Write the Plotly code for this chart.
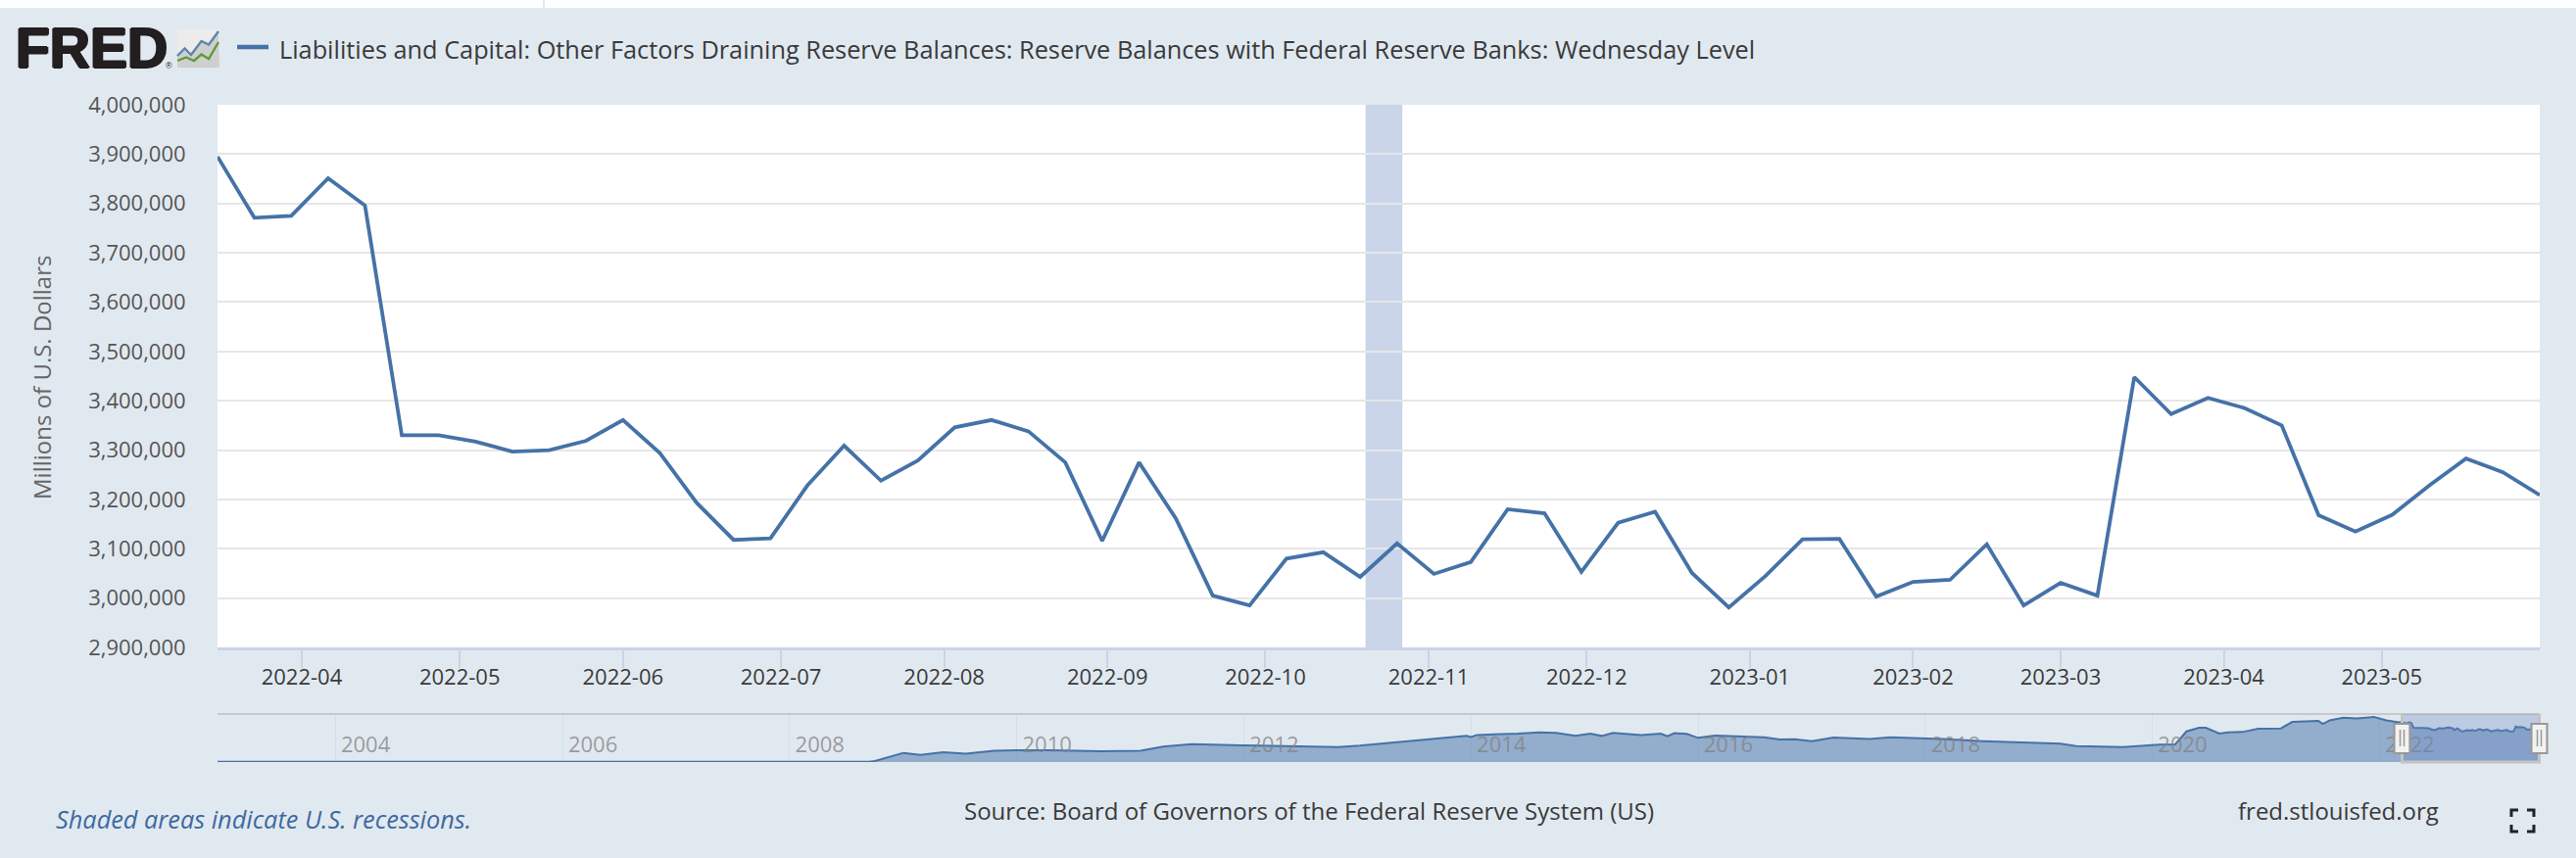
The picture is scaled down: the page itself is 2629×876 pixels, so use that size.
import datetime as dt
import pandas as pd
import plotly.graph_objects as go

W, H = 2629, 876

# Main chart: weekly Wednesday level, millions of U.S. dollars
first_week = "2022-03-16"
reserve_values = [
    3895000, 3771000, 3775000, 3851000, 3796000, 3330000, 3330000, 3317000,
    3297000, 3300000, 3319000, 3361000, 3294000, 3193000, 3118000, 3121000,
    3228000, 3309000, 3238000, 3279000, 3346000, 3361000, 3338000, 3275000,
    3116000, 3275000, 3161000, 3005000, 2985000, 3080000, 3093000, 3043000,
    3111000, 3049000, 3073000, 3180000, 3172000, 3053000, 3153000, 3175000,
    3051000, 2981000, 3045000, 3119000, 3120000, 3003000, 3033000, 3037000,
    3109000, 2985000, 3031000, 3005000, 3448000, 3373000, 3406000, 3385000,
    3350000, 3168000, 3135000, 3169000, 3228000, 3283000, 3255000, 3209000,
]
month_ticks = ["2022-04", "2022-05", "2022-06", "2022-07", "2022-08", "2022-09", "2022-10",
               "2022-11", "2022-12", "2023-01", "2023-02", "2023-03", "2023-04", "2023-05"]
y_ticks = [2900000, 3000000, 3100000, 3200000, 3300000, 3400000, 3500000, 3600000,
           3700000, 3800000, 3900000, 4000000]
recession_band = ["2022-10-20", "2022-10-27"]

# Navigator: history read as (fractional year, millions of dollars)
nav_years = [2002.96, 2004.0, 2005.0, 2006.0, 2007.0, 2008.0, 2008.7, 2008.75, 2008.81, 2008.9,
             2009.0, 2009.15, 2009.35, 2009.55, 2009.8, 2010.0, 2010.3, 2010.74, 2011.09, 2011.29,
             2011.54, 2011.98, 2012.52, 2012.83, 2013.02, 2013.37, 2013.76, 2013.96, 2014.0, 2014.05,
             2014.41, 2014.6, 2014.75, 2014.92, 2015.05, 2015.15, 2015.25, 2015.5, 2015.67, 2015.73,
             2015.79, 2015.9, 2016.0, 2016.15, 2016.58, 2016.72, 2016.85, 2017.0, 2017.19, 2017.51,
             2017.69, 2017.91, 2018.15, 2018.51, 2018.92, 2019.19, 2019.33, 2019.74, 2020.06, 2020.2,
             2020.3, 2020.41, 2020.47, 2020.59, 2020.66, 2020.79, 2020.93, 2021.13, 2021.23, 2021.35,
             2021.46, 2021.5, 2021.56, 2021.68, 2021.8, 2021.95, 2022.06, 2022.17]
nav_values = [0.02, 0.02, 0.02, 0.02, 0.02, 0.02, 0.03, 0.10, 0.30, 0.60,
              0.89, 0.70, 0.95, 0.80, 1.10, 1.14, 1.14, 1.05, 1.10, 1.50,
              1.75, 1.62, 1.55, 1.46, 1.59, 1.94, 2.32, 2.54, 2.44, 2.63,
              2.76, 2.89, 2.83, 2.54, 2.76, 2.54, 2.83, 2.63, 2.76, 2.50,
              2.80, 2.73, 2.35, 2.57, 2.41, 2.19, 2.22, 2.03, 2.38, 2.25,
              2.41, 2.35, 2.25, 2.03, 1.84, 1.78, 1.56, 1.46, 1.68, 1.71,
              2.98, 3.33, 3.33, 2.76, 2.89, 2.92, 3.24, 3.27, 3.90, 3.97,
              4.00, 3.71, 4.06, 4.32, 4.25, 4.38, 4.06, 3.87]
nav_tick_years = [2004, 2006, 2008, 2010, 2012, 2014, 2016, 2018, 2020, 2022]

title_text = "Liabilities and Capital: Other Factors Draining Reserve Balances: Reserve Balances with Federal Reserve Banks: Wednesday Level"


def px(x):
    return x / W


def py(y):
    return 1 - y / H


def year_to_date(y):
    yr = int(y)
    start = dt.datetime(yr, 1, 1)
    return start + (dt.datetime(yr + 1, 1, 1) - start) * (y - yr)


BG = "#e1e9f0"
LINE = "#4572a7"
FONT = "Open Sans"
TXT = "#3a3a3a"
L, R, T, B = 222, 2592, 107, 661
NT, NB = 729, 778

week_dates = pd.date_range(first_week, periods=len(reserve_values), freq="7D")
nav_x = [year_to_date(y) for y in nav_years] + list(week_dates)
nav_y = [v * 1e6 for v in nav_values] + reserve_values

fig = go.Figure()
fig.add_trace(go.Scatter(x=week_dates, y=reserve_values, mode="lines", cliponaxis=True,
                         line=dict(color=LINE, width=3.8), hoverinfo="skip", showlegend=False))
fig.add_trace(go.Scatter(x=nav_x, y=nav_y, mode="lines", xaxis="x2", yaxis="y2",
                         line=dict(color=LINE, width=2), fill="tozeroy",
                         fillcolor="rgba(69,114,167,0.50)", hoverinfo="skip", showlegend=False))
fig.add_trace(go.Scatter(x=[f"{y}-01-01" for y in nav_tick_years], y=[1.46e6] * len(nav_tick_years),
                         text=["\u00a0" + str(y) for y in nav_tick_years], mode="text",
                         textposition="middle right", xaxis="x2", yaxis="y2", cliponaxis=False,
                         textfont=dict(family=FONT, size=22, color="rgba(130,130,130,0.75)"),
                         hoverinfo="skip", showlegend=False))


def rect(x0, y0, x1, y1, **kw):
    return dict(type="rect", xref="paper", yref="paper", x0=px(x0), x1=px(x1), y0=py(y0), y1=py(y1),
                layer=kw.pop("layer", "above"), **kw)


def seg(x0, y0, x1, y1, color, width, layer="above"):
    return dict(type="line", xref="paper", yref="paper", x0=px(x0), x1=px(x1), y0=py(y0), y1=py(y1),
                line=dict(color=color, width=width), layer=layer)


def poly(points, color, width, fill=None, close=False):
    d = "M" + " L".join(f"{px(x):.5f},{py(y):.5f}" for x, y in points) + (" Z" if close else "")
    return dict(type="path", xref="paper", yref="paper", path=d, layer="above",
                line=dict(color=color, width=width), fillcolor=fill)


shapes = [
    rect(0, 0, W, 8, fillcolor="white", line_width=0, layer="below"),
    seg(555, 0, 555, 8, BG, 2, "below"),
    # white plotting area of the main chart only
    rect(L, T, R, B, fillcolor="white", line_width=0, layer="below"),
    # recession band
    dict(type="rect", xref="x", yref="paper", x0=recession_band[0], x1=recession_band[1],
         y0=py(B), y1=py(T), fillcolor="rgba(102,136,194,0.35)", line_width=0, layer="between"),
    # legend swatch
    seg(242, 48, 274, 48, LINE, 4.5),
    # navigator top rule
    seg(L, NT, R, NT, "#c8c8c8", 2),
    # selection mask and outline
    rect(2451.5, NT, 2591.5, NB, fillcolor="rgba(102,133,194,0.30)", line_width=0),
    poly([(2451.5, NT), (2451.5, NB), (2591.5, NB), (2591.5, NT)], "#c4c4c4", 3),
]
for hx in (2443.5, 2583.5):
    shapes.append(rect(hx, 739, hx + 16, 769, fillcolor="#f2f2f2", line=dict(color="#999999", width=2.2)))
    shapes.append(seg(hx + 6, 745, hx + 6, 762, "#999999", 1.5))
    shapes.append(seg(hx + 10, 745, hx + 10, 762, "#999999", 1.5))

# logo icon
icon_blue = [(181, 57), (188.5, 49.5), (195, 56), (205.5, 42), (213, 45.5), (223, 32)]
icon_green = [(181, 62), (190, 58.5), (198, 62), (205.5, 55.5), (213, 60), (223, 43)]
shapes.append(rect(181, 30, 224, 69, fillcolor="#ececec", line_width=0))
shapes.append(poly(icon_blue + [(224, 69), (181, 69)], "rgba(0,0,0,0)", 0, fill="#cfcfcf", close=True))
shapes.append(poly(icon_blue, "#5b87a8", 2.4))
shapes.append(poly(icon_green, "#5f9a3c", 2.4))

# fullscreen icon corners
for pts in ([(2563, 834), (2563, 827), (2570, 827)], [(2579, 827), (2586, 827), (2586, 834)],
            [(2563, 842), (2563, 849), (2570, 849)], [(2579, 849), (2586, 849), (2586, 842)]):
    shapes.append(poly(pts, "#222222", 3))


def note(text, x, y, size=22, color=TXT, anchor="left", **font):
    return dict(text=text, xref="paper", yref="paper", x=px(x), y=py(y), xanchor=anchor, yanchor="middle",
                showarrow=False, font=dict(family=font.pop("family", FONT), size=size, color=color, **font))


annotations = [
    note("FRED", 14, 49, size=57, color="#231f20", family="Liberation Sans", weight=700,
         shadow="1.2px 0 0 #231f20, -1.2px 0 0 #231f20, 0 1px 0 #231f20, 0 -1px 0 #231f20"),
    note("®", 167, 67, size=9, color="#231f20", family="Liberation Sans"),
    note(title_text, 283, 50, size=25.3),
    note("Shaded areas indicate U.S. recessions.", 55, 836, size=25.3, color="#3d6aa0", style="italic"),
    note("Source: Board of Governors of the Federal Reserve System (US)", 982, 827, size=24),
    note("fred.stlouisfed.org", 2282, 827, size=24),
    dict(text="Millions of U.S. Dollars", xref="paper", yref="paper", x=px(42), y=py(386), textangle=-90,
         showarrow=False, xanchor="center", yanchor="middle", font=dict(family=FONT, size=24, color="#666666")),
]

fig.update_layout(
    width=W, height=H, autosize=False, margin=dict(l=0, r=0, t=0, b=0, pad=0),
    paper_bgcolor=BG, plot_bgcolor="rgba(0,0,0,0)", showlegend=False, shapes=shapes, annotations=annotations,
    xaxis=dict(domain=[px(L), px(R)], range=[first_week, "2023-05-31"], type="date", automargin=False,
               tickmode="array", tickvals=[m + "-01" for m in month_ticks], ticktext=month_ticks,
               ticks="outside", ticklen=18, tickwidth=1.5, tickcolor="#c8d4e8", ticklabelstandoff=-9,
               showgrid=False, zeroline=False, showline=True, linecolor="#c8d4e8", linewidth=2.5,
               tickfont=dict(family=FONT, size=22, color=TXT), anchor="y"),
    yaxis=dict(domain=[py(B), py(T)], range=[2900000, 4000000], tickmode="array", tickvals=y_ticks,
               ticktext=[f"{v:,}" for v in y_ticks], ticks="outside", ticklen=27, tickcolor="rgba(0,0,0,0)",
               automargin=False, gridcolor="#e6e6e6", gridwidth=2, zeroline=False, showline=False,
               tickfont=dict(family=FONT, size=22, color="#555555"), anchor="x"),
    xaxis2=dict(domain=[px(L), px(R)], range=["2002-12-18", "2023-05-31"], type="date", automargin=False,
                tickmode="array", tickvals=[f"{y}-01-01" for y in nav_tick_years], showticklabels=False,
                ticks="", showgrid=True, gridcolor="#d6dee6", gridwidth=1, zeroline=False, showline=False,
                anchor="y2"),
    yaxis2=dict(domain=[py(NB), py(NT)], range=[0, 4670000], showticklabels=False, ticks="", automargin=False,
                showgrid=False, zeroline=False, showline=False, anchor="x2"),
)

fig.write_html("out.html", config=dict(displayModeBar=False),
               post_script="document.body.style.margin='0';document.body.style.overflow='hidden';")
